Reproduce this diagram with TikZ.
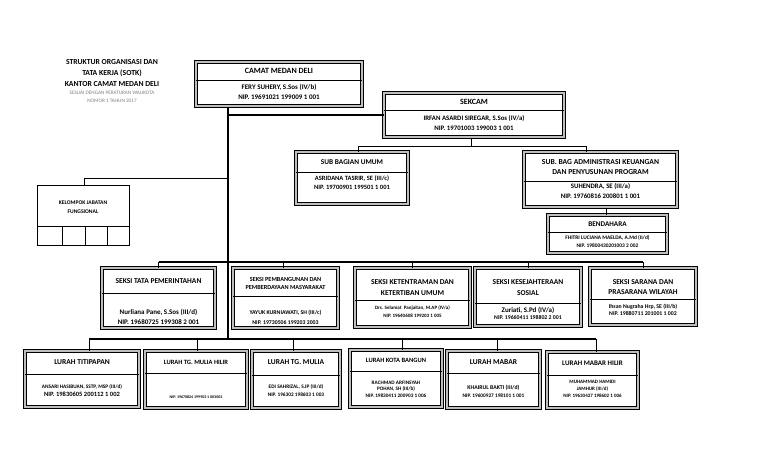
\documentclass[tikz,border=0pt]{standalone}
\usepackage{fontspec}
\setmainfont{Carlito}
\usetikzlibrary{fit}

\tikzset{
  unitbox/.style={draw, line width=1pt, double=gray!50, double distance=1.3pt, inner sep=0pt},
  plainbox/.style={draw, line width=0.6pt, inner sep=0pt},
  divline/.style={line width=0.6pt},
  trunk/.style={line width=1.8pt},
  link/.style={line width=0.7pt}, 
  txt/.style={align=center, inner sep=0pt}
}

\begin{document}
\begin{tikzpicture}[x=1pt, y=-1pt]

\useasboundingbox (0,0) rectangle (768,466);
\fill[white] (0,0) rectangle (768,466);

% heading
\node[txt, font=\bfseries\fontsize{7.7}{10.5}\selectfont] (head) at (112,73) {STRUKTUR ORGANISASI DAN\\TATA KERJA (SOTK)\\KANTOR CAMAT MEDAN DELI};
\node[txt, text=gray, font=\fontsize{5.2}{8}\selectfont] (rule) at (112,97) {SESUAI DENGAN PERATURAN WALIKOTA\\NOMOR 1 TAHUN 2017};

% camat and sekcam
\node[unitbox, fit={(196,62) (362,106)}] (camat) {};
\draw[divline] (196,80) -- (362,80);
\node[txt, font=\bfseries\fontsize{8}{9}\selectfont] (camat-t) at (279,71) {CAMAT MEDAN DELI};
\node[txt, font=\bfseries\fontsize{7}{10}\selectfont] (camat-b) at (279,92) {FERY SUHERY, S.Sos (IV/b)\\NIP. 19691021 199009 1 001};

\node[unitbox, fit={(384,93) (564,137)}] (sekcam) {};
\draw[divline] (384,110) -- (564,110);
\node[txt, font=\bfseries\fontsize{8}{9}\selectfont] (sekcam-t) at (474,101.5) {SEKCAM};
\node[txt, font=\bfseries\fontsize{6.8}{10}\selectfont] (sekcam-b) at (474,123) {IRFAN ASARDI SIREGAR, S.Sos (IV/a)\\NIP. 19701003 199003 1 001};

% sub bagian
\node[unitbox, fit={(296,152) (408,204)}] (umum) {};
\draw[divline] (296,172) -- (408,172);
\node[txt, font=\bfseries\fontsize{7.3}{9}\selectfont] (umum-t) at (352,162) {SUB BAGIAN UMUM};
\node[txt, font=\bfseries\fontsize{6.5}{9}\selectfont] (umum-b) at (352,182.5) {ASRIDANA TASRIR, SE (III/c)\\NIP. 19700901 199501 1 001};

\node[unitbox, fit={(524,152) (677,207)}] (keu) {};
\draw[divline] (524,181) -- (677,181);
\node[txt, font=\bfseries\fontsize{7.6}{10}\selectfont] (keu-t) at (600.5,167) {SUB. BAG ADMINISTRASI KEUANGAN\\DAN PENYUSUNAN PROGRAM};
\node[txt, font=\bfseries\fontsize{6.8}{10}\selectfont] (keu-b) at (600.5,191) {SUHENDRA, SE (III/a)\\NIP. 19760816 200801 1 001};

\node[unitbox, fit={(548,215) (667,253)}] (bendahara) {};
\draw[divline] (548,232) -- (667,232);
\node[txt, font=\bfseries\fontsize{7.2}{9}\selectfont] (bendahara-t) at (607.5,224) {BENDAHARA};
\node[txt, font=\bfseries\fontsize{5.4}{7.5}\selectfont] (bendahara-b) at (607.5,241.5) {FHITRI LUCIANA MAELDA, A.Md (II/d)\\NIP. 19800430201003 2 002};

% kelompok jabatan fungsional
\node[plainbox, fit={(37,185) (129,226)}] (jafung) {};
\node[plainbox, fit={(37,226) (129,245)}] (jafung-row) {};
\foreach \a in {62,85,107} {\draw[divline] (\a,226) -- (\a,245);}
\node[txt, font=\bfseries\fontsize{5.6}{9}\selectfont] (jafung-t) at (83,207.5) {KELOMPOK JABATAN\\FUNGSIONAL};

% seksi
\node[unitbox, fit={(102,268) (215,328)}] (seksi1) {};
\draw[divline] (102,293) -- (215,293);
\node[txt, font=\bfseries\fontsize{7.5}{9}\selectfont] (seksi1-t) at (158.5,281) {SEKSI TATA PEMERINTAHAN};
\node[txt, font=\bfseries\fontsize{7}{10}\selectfont] (seksi1-b) at (158.5,317) {Nurliana Pane, S.Sos (III/d)\\NIP. 19680725 199308 2 001};

\node[unitbox, fit={(233,268) (338,328)}] (seksi2) {};
\draw[divline] (233,296) -- (338,296);
\node[txt, font=\bfseries\fontsize{6.2}{8.5}\selectfont] (seksi2-t) at (285.5,283.5) {SEKSI PEMBANGUNAN DAN\\PEMBERDAYAAN MASYARAKAT};
\node[txt, font=\bfseries\fontsize{5.8}{10}\selectfont] (seksi2-b) at (285.5,317) {YAYUK KURNIAWATI, SH (III/c)\\NIP. 19730506 199203 2003};

\node[unitbox, fit={(355,268) (470,327)}] (seksi3) {};
\draw[divline] (355,300) -- (470,300);
\node[txt, font=\bfseries\fontsize{7.5}{11}\selectfont] (seksi3-t) at (412.5,287.5) {SEKSI KETENTRAMAN DAN\\KETERTIBAN UMUM};
\node[txt, font=\bfseries\fontsize{5}{8}\selectfont] (seksi3-b) at (412.5,312) {Drs. Selamat\ \ Panjaitan, M.AP (IV/a)\\NIP. 19640608 199203 1 005};

\node[unitbox, fit={(475,268) (581,326)}] (seksi4) {};
\draw[divline] (475,303) -- (581,303);
\node[txt, font=\bfseries\fontsize{7.5}{11}\selectfont] (seksi4-t) at (528,287.5) {SEKSI KESEJAHTERAAN\\SOSIAL};
\node[txt, font=\bfseries\fontsize{7}{7.5}\selectfont] (seksi4-b) at (528,313.5) {Zuriati, S.Pd (IV/a)\\{\fontsize{5.8}{7.5}\selectfont NIP. 19660411 198802 2 001}};

\node[unitbox, fit={(590,268) (696,325)}] (seksi5) {};
\draw[divline] (590,299) -- (696,299);
\node[txt, font=\bfseries\fontsize{7.5}{10}\selectfont] (seksi5-t) at (643,287) {SEKSI SARANA DAN\\PRASARANA WILAYAH};
\node[txt, font=\bfseries\fontsize{5.8}{7.5}\selectfont] (seksi5-b) at (643,310) {Ihsan Nugraha Hrp, SE (III/b)\\NIP. 19880711 201001 1 002};

% lurah
\node[unitbox, fit={(25,351) (139,407)}] (lurah1) {};
\draw[divline] (25,374) -- (139,374);
\node[txt, font=\bfseries\fontsize{7.5}{9}\selectfont] (lurah1-t) at (82,362) {LURAH TITIPAPAN};
\node[txt, font=\bfseries\fontsize{5.3}{8}\selectfont] (lurah1-b) at (82,390.5) {ANSARI HASIBUAN, SSTP, MSP (III/d)\\{\fontsize{6.5}{8}\selectfont NIP. 19830605 200112 1 002}};

\node[unitbox, fit={(145,351) (247,408)}] (lurah2) {};
\draw[divline] (145,373) -- (247,373);
\node[txt, font=\bfseries\fontsize{6.5}{9}\selectfont] (lurah2-t) at (196,362) {LURAH TG. MULIA HILIR};
\node[txt, font=\bfseries\fontsize{4}{5}\selectfont] (lurah2-b) at (196,397) {NIP. 19670824 199903 1 003003};

\node[unitbox, fit={(252,351) (340,408)}] (lurah3) {};
\draw[divline] (252,375) -- (340,375);
\node[txt, font=\bfseries\fontsize{7.5}{9}\selectfont] (lurah3-t) at (296,362) {LURAH TG. MULIA};
\node[txt, font=\bfseries\fontsize{5.3}{8}\selectfont] (lurah3-b) at (296,391) {EDI SAHRIZAL, S.IP (III/d)\\NIP. 196302 198603 1 003};

\node[unitbox, fit={(350,350) (442,407)}] (lurah4) {};
\draw[divline] (350,371) -- (442,371);
\node[txt, font=\bfseries\fontsize{6.5}{9}\selectfont] (lurah4-t) at (396,360) {LURAH KOTA BANGUN};
\node[txt, font=\bfseries\fontsize{5.2}{6.6}\selectfont] (lurah4-b) at (396,389) {RACHMAD ARFINSYAH\\POHAN, SH (III/b)\\NIP. 19830411 200903 1 006};

\node[unitbox, fit={(447,351) (540,408)}] (lurah5) {};
\draw[divline] (447,373) -- (540,373);
\node[txt, font=\bfseries\fontsize{7.5}{9}\selectfont] (lurah5-t) at (493.5,362) {LURAH MABAR};
\node[txt, font=\bfseries\fontsize{5.8}{7.5}\selectfont] (lurah5-b) at (493.5,391.5) {KHAIRUL BAKTI (III/d)\\{\fontsize{5.3}{7.5}\selectfont NIP. 19600927 198101 1 001}};

\node[unitbox, fit={(547,352) (638,408)}] (lurah6) {};
\draw[divline] (547,375) -- (638,375);
\node[txt, font=\bfseries\fontsize{7}{9}\selectfont] (lurah6-t) at (592.5,363) {LURAH MABAR HILIR};
\node[txt, font=\bfseries\fontsize{5}{7}\selectfont] (lurah6-b) at (592.5,389) {MUHAMMAD HAMIDI\\JAMHUR (III/d)\\NIP. 19630427 198602 1 006};

% connectors
\coordinate (trunk-end) at (228,339);
\coordinate (seksi-bar) at (0,262);
\coordinate (staf-bar) at (0,146);
\coordinate (jafung-bar) at (0,178);
\coordinate (sekcam-bar) at (0,115);

\draw[trunk] ([xshift=-51pt]camat.south) -- (trunk-end);
\draw[trunk] (trunk-end |- sekcam-bar) -- (sekcam.west |- sekcam-bar);
\draw[link] ([xshift=-3pt]sekcam.south) -- ([xshift=-3pt]sekcam.south |- staf-bar);
\draw[link] ([xshift=6pt]umum.north) -- ([xshift=6pt]umum.north |- staf-bar) -- ([xshift=-14.5pt]keu.north |- staf-bar) -- ([xshift=-14.5pt]keu.north);
\draw[link] ([xshift=5.5pt]keu.south) -- ([xshift=-1.5pt]bendahara.north);
\draw[link] (trunk-end |- jafung-bar) -- ([xshift=1pt]jafung.north |- jafung-bar) -- ([xshift=1pt]jafung.north);

\draw[line width=1.3pt] (seksi1.north |- seksi-bar) -- (seksi5.north |- seksi-bar);
\foreach \s/\dx in {seksi1/0, seksi2/-2.5, seksi3/0, seksi4/0, seksi5/0}
  {\draw[link] ([xshift=\dx pt]\s.north) -- ([xshift=\dx pt]\s.north |- seksi-bar);}

\draw[line width=1.3pt] ([xshift=7pt]lurah1.north |- trunk-end) -- ([xshift=3.5pt]lurah6.north |- trunk-end);
\foreach \s/\dx in {lurah1/7, lurah2/1, lurah3/-3, lurah4/6, lurah5/3.5, lurah6/3.5}
  {\draw[link] ([xshift=\dx pt]\s.north) -- ([xshift=\dx pt]\s.north |- trunk-end);}

\end{tikzpicture}
\end{document}
